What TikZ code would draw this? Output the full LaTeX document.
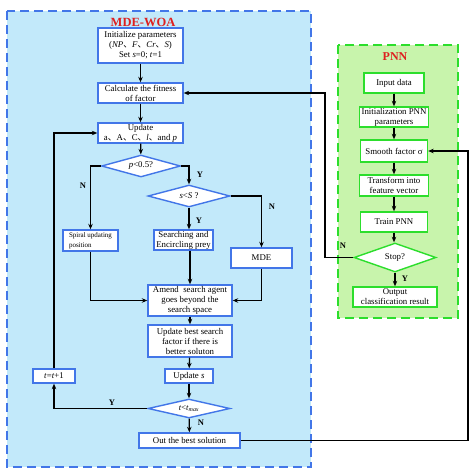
\documentclass[tikz,border=0pt]{standalone}
\usepackage{fontspec}
\setmainfont{Liberation Serif}
\newfontfamily\cjk{Noto Sans CJK SC}
\usetikzlibrary{shapes.geometric,arrows.meta}
\newcommand{\dun}{{\cjk 、}}
\definecolor{woafill}{RGB}{194,233,250}
\definecolor{woaline}{RGB}{66,118,232}
\definecolor{pnnfill}{RGB}{200,244,172}
\definecolor{pnnline}{RGB}{44,222,44}
\definecolor{ttl}{RGB}{222,32,32}
\tikzset{
  fs/.style={font=\fontsize{8.8}{10}\selectfont},
  wbox/.style={draw=woaline, fill=white, line width=1.4pt, inner sep=0.5pt, align=center, fs},
  gbox/.style={draw=pnnline, fill=white, line width=1.4pt, inner sep=0.5pt, align=center, fs},
  wdia/.style={diamond, draw=woaline, fill=white, line width=1.4pt, inner sep=0pt, aspect=4, fs},
  gdia/.style={diamond, draw=pnnline, fill=white, line width=1.4pt, inner sep=0pt, aspect=3, fs},
  arr/.style={-{Stealth[length=5.5pt,width=4.5pt]}, line width=1.3pt},
  lab/.style={font=\bfseries\fontsize{8.5}{9}\selectfont, inner sep=0pt},
  ttlnode/.style={text=ttl, font=\bfseries\fontsize{12.5}{13}\selectfont, inner sep=0pt},
}
\begin{document}
\begin{tikzpicture}[x=1pt,y=-1pt]
\useasboundingbox (0,0) rectangle (474,475);
% frames
\draw[fill=woafill, draw=woaline, line width=2pt, dash pattern=on 9pt off 5pt] (7,11) rectangle (311,467);
\draw[fill=pnnfill, draw=pnnline, line width=2pt, dash pattern=on 9pt off 5pt] (338,45) rectangle (458,318);
\node[ttlnode] (t1) at (143,22) {MDE-WOA};
\node[ttlnode, font=\bfseries\fontsize{12}{13}\selectfont] (t2) at (395,57) {PNN};
% MDE-WOA nodes
\node[wbox, minimum width=85pt, minimum height=35pt] (init) at (140.5,45.5)
  {Initialize parameters\\(\textit{NP}\dun\textit{F}\dun\textit{Cr}\dun\textit{S})\\Set \textit{s}=0; \textit{t}=1};
\node[wbox, minimum width=85pt, minimum height=20pt] (calc) at (140.5,93) {Calculate the fitness\\of factor};
\node[wbox, minimum width=85pt, minimum height=20pt] (upd) at (140.5,133) {Update\\a\dun A\dun C\dun \textit{l}\dun and \textit{p}};
\node[wdia, minimum width=79pt, minimum height=22pt] (d1) at (141,166) {\textit{p}<0.5?};
\node[wdia, minimum width=82pt, minimum height=22pt] (d2) at (189,196) {\textit{s}<\textit{S} ?};
\node[wbox, minimum width=55pt, minimum height=21pt, align=left, font=\fontsize{7}{10}\selectfont] (spiral) at (90.5,240.5) {Spiral updating\\position};
\node[wbox, minimum width=59pt, minimum height=20pt] (search) at (183.5,240) {Searching and\\Encircling prey};
\node[wbox, minimum width=61pt, minimum height=20pt] (mde) at (261.5,258) {MDE};
\node[wbox, minimum width=84pt, minimum height=31pt] (amend) at (190,300.5) {Amend~ search agent\\goes beyond the\\search space};
\node[wbox, minimum width=84pt, minimum height=32pt] (ubest) at (190,341) {Update best search\\factor if there is\\better soluton};
\node[wbox, minimum width=48pt, minimum height=14pt] (us) at (189,376) {Update \textit{s}};
\node[wdia, minimum width=82pt, minimum height=19pt, font=\fontsize{8.5}{9}\selectfont] (d3) at (189,408.5) {\textit{t}<\textit{t}\textsubscript{\textit{max}}};
\node[wbox, minimum width=42pt, minimum height=14pt] (tt) at (54,376) {\textit{t}=\textit{t}+1};
\node[wbox, minimum width=101pt, minimum height=15pt] (out) at (189.5,440.5) {Out the best solution};
% PNN nodes
\node[gbox, minimum width=60pt, minimum height=20pt] (inp) at (394,83) {Input data};
\node[gbox, minimum width=69pt, minimum height=20pt] (ipnn) at (394,117) {Initialization PNN\\parameters};
\node[gbox, minimum width=67pt, minimum height=22pt] (sm) at (394,151) {Smooth factor σ};
\node[gbox, minimum width=69pt, minimum height=21pt] (tr) at (394,185.5) {Transform into\\feature vector};
\node[gbox, minimum width=67pt, minimum height=20pt] (train) at (394,222) {Train PNN};
\node[gdia, minimum width=82pt, minimum height=29pt] (stop) at (395,257.5) {Stop?};
\node[gbox, minimum width=84pt, minimum height=20pt] (outc) at (395,297) {Output\\classification result};
\coordinate (rc) at (468,151);
\coordinate (lc) at (325,93);
% connectors
\draw[arr] (init) -- (calc);
\draw[arr] (calc) -- (upd);
\draw[arr] (upd) -- (d1);
\draw[arr] (d1.east) -| (d2.north);
\draw[arr] (d1.west) -| (spiral.north);
\draw[arr] (d2.south) -- (d2.south |- search.north);
\draw[arr] (d2.east) -| (mde.north);
\draw[arr] (spiral.south) |- (amend.west);
\draw[arr] (mde.south) |- (amend.east);
\draw[arr] (search.south -| amend.north) -- (amend.north);
\draw[arr] (amend) -- (ubest);
\draw[arr] (ubest) -- (us);
\draw[arr] (us) -- (d3);
\draw[arr] (d3) -- (out);
\draw[arr] (d3.west) -| (tt.south);
\draw[arr] (tt.north) |- (upd.west);
\draw[arr] (out.east) -| (rc) -- (sm.east);
\draw[arr] (stop.west) -| (lc) -- (calc.east);
\draw[arr] (inp) -- (ipnn);
\draw[arr] (ipnn) -- (sm);
\draw[arr] (sm) -- (tr);
\draw[arr] (tr) -- (train);
\draw[arr] (train.south) -- (train.south |- stop.north);
\draw[arr] (stop.south -| outc.north) -- (outc.north);
% labels
\node[lab] (y1) at (200,175) {Y};
\node[lab] (n1) at (83,186) {N};
\node[lab] (n2) at (272,207) {N};
\node[lab] (y2) at (199,221) {Y};
\node[lab] (y3) at (112,403) {Y};
\node[lab] (n3) at (201,423) {N};
\node[lab] (n4) at (343,246) {N};
\node[lab] (y4) at (405,279) {Y};
\end{tikzpicture}
\end{document}
